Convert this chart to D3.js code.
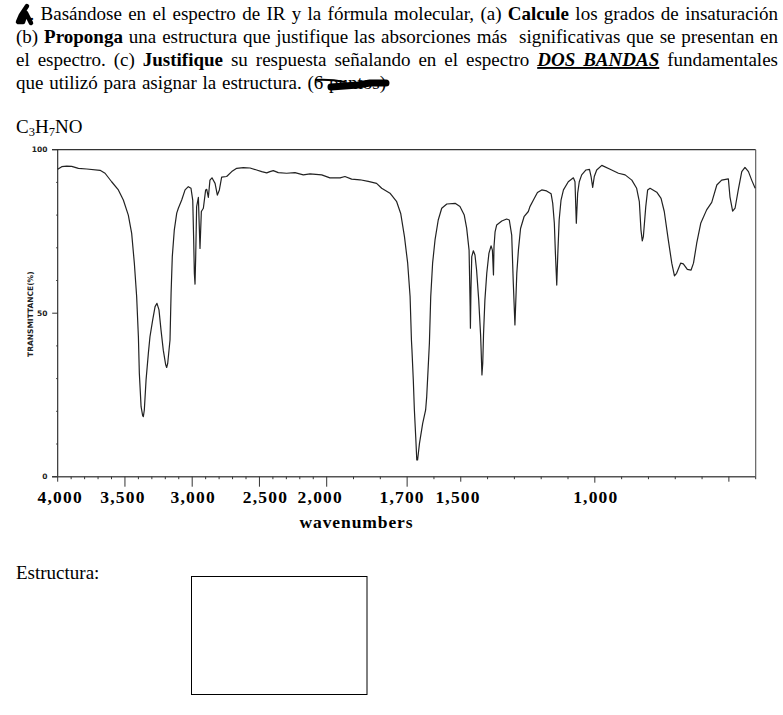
<!DOCTYPE html>
<html>
<head>
<meta charset="utf-8">
<script src="https://cdn.jsdelivr.net/npm/d3@7"></script>
<style>
  html, body { margin: 0; padding: 0; background: #fff; }
  svg { display: block; }
  text { fill: #000; white-space: pre; }
  .body { font-family: "Liberation Serif", serif; font-size: 19px; }
  .xlab { font-family: "Liberation Serif", serif; font-size: 17.5px; font-weight: bold; letter-spacing: 1.2px; }
  .ylab { font-family: "DejaVu Sans", sans-serif; font-size: 7.5px; font-weight: bold; fill: #222; }
</style>
</head>
<body>
<div id="wrapper"></div>
<script>
// spectrum: wavenumber (cm-1) / transmittance (%)
const wavenumbers = [
  4000, 3970, 3933, 3896, 3846, 3784, 3685, 3648, 3599, 3549, 3512, 3475, 3450, 3430, 3413, 3400,
  3393, 3380, 3368, 3363, 3356, 3343, 3326, 3314, 3294, 3276, 3262, 3247, 3232, 3215, 3197, 3190,
  3182, 3165, 3157, 3148, 3133, 3115, 3103, 3078, 3053, 3029, 3009, 2996, 2989, 2984, 2979, 2974,
  2967, 2954, 2949, 2942, 2932, 2917, 2900, 2892, 2880, 2868, 2853, 2830, 2813, 2798, 2781, 2744,
  2706, 2669, 2620, 2570, 2521, 2483, 2446, 2422, 2397, 2360, 2298, 2236, 2174, 2124, 2037, 1988,
  1950, 1932, 1907, 1876, 1845, 1814, 1795, 1764, 1739, 1724, 1710, 1698, 1689, 1684, 1682, 1677,
  1673, 1668, 1664, 1661, 1654, 1642, 1631, 1627, 1622, 1617, 1612, 1605, 1596, 1584, 1571, 1552,
  1521, 1503, 1487, 1478, 1469, 1465, 1464, 1462, 1459, 1453, 1447, 1441, 1433, 1426, 1424, 1421,
  1418, 1415, 1410, 1403, 1395, 1387, 1382, 1378, 1376, 1372, 1366, 1347, 1329, 1319, 1310, 1304,
  1298, 1291, 1285, 1277, 1264, 1248, 1242, 1229, 1214, 1198, 1180, 1163, 1157, 1151, 1147, 1142,
  1138, 1133, 1126, 1117, 1099, 1080, 1074, 1069, 1064, 1058, 1049, 1033, 1020, 1014, 1008, 1002,
  993, 974, 943, 912, 887, 862, 844, 834, 828, 823, 819, 810, 803, 794, 769, 753,
  741, 726, 713, 703, 695, 680, 670, 655, 641, 632, 620, 605, 583, 564, 545, 527,
  502, 496, 486, 477, 465, 452, 440, 427, 415, 402
]
const transmittance = [
  94.0, 94.8, 95.0, 94.9, 94.3, 94.1, 93.7, 92.8, 90.2, 87.7, 84.6, 80.0, 74.4, 65.2, 55.1, 42.8,
  31.6, 21.4, 18.6, 18.4, 20.4, 29.6, 37.7, 42.8, 47.9, 52.0, 53.0, 51.0, 44.9, 38.7, 34.2, 33.4,
  34.7, 41.8, 56.1, 67.3, 75.5, 80.6, 82.1, 84.6, 87.7, 88.7, 88.2, 84.6, 72.4, 62.2, 58.9, 67.3,
  82.6, 85.4, 78.5, 69.8, 81.1, 82.1, 87.7, 87.9, 85.4, 90.7, 91.4, 89.7, 86.1, 87.7, 91.6, 91.8,
  93.3, 94.3, 94.5, 94.4, 93.8, 93.3, 92.9, 93.3, 93.6, 93.0, 92.8, 93.0, 92.3, 92.6, 92.3, 91.4,
  91.4, 91.8, 91.0, 90.8, 90.3, 89.7, 88.2, 86.7, 84.1, 80.5, 73.4, 65.3, 55.1, 41.8, 38.7, 29.6,
  20.4, 12.2, 5.1, 5.1, 10.2, 16.3, 20.4, 24.5, 32.6, 40.8, 55.1, 65.3, 72.4, 78.5, 82.1, 83.4,
  83.6, 82.6, 80.0, 76.0, 69.3, 52.0, 45.4, 57.1, 67.3, 69.1, 67.8, 63.2, 54.0, 43.3, 38.7, 31.1,
  34.7, 43.8, 54.0, 62.2, 68.3, 70.6, 69.3, 61.7, 70.4, 74.9, 77.0, 78.2, 78.8, 78.5, 73.9, 59.1,
  46.4, 62.2, 69.3, 75.9, 79.5, 81.1, 82.6, 84.6, 86.9, 87.7, 87.4, 86.5, 83.6, 77.5, 68.3, 58.6,
  68.3, 78.5, 84.6, 87.7, 90.2, 91.4, 90.2, 77.5, 86.7, 90.2, 92.3, 93.8, 94.0, 91.8, 88.5, 91.8,
  93.8, 95.2, 94.0, 92.8, 92.3, 90.7, 88.2, 84.1, 75.5, 72.1, 73.4, 82.6, 87.7, 88.2, 87.0, 85.1,
  81.1, 72.4, 65.3, 61.4, 62.2, 65.3, 65.1, 63.4, 63.2, 65.3, 71.4, 77.5, 81.6, 83.9, 89.2, 90.7,
  91.1, 85.6, 81.2, 82.1, 87.7, 93.3, 94.6, 93.3, 90.7, 88.2
]
const xTickLabels = [4000, 3500, 3000, 2500, 2000, 1700, 1500, 1000]
const xLongTicks = [4000, 3500, 3000, 2500, 2000, 1700, 1500, 1000, 500]
const yTickLabels = [0, 50, 100]
const xTitle = "wavenumbers"
const yTitle = "TRANSMITTANCE(%)"

// question text, one list per line: [text, style]
const questionLines = [
  [[". Basándose en el espectro de IR y la fórmula molecular, (a) ", ""], ["Calcule", "b"], [" los grados de insaturación", ""]],
  [["(b) ", ""], ["Proponga", "b"], [" una estructura que justifique las absorciones más  significativas que se presentan en", ""]],
  [["el espectro. (c) ", ""], ["Justifique", "b"], [" su respuesta señalando en el espectro ", ""], ["DOS BANDAS", "bi"], [" fundamentales", ""]],
  [["que utilizó para asignar la estructura. (6 puntos)", ""]]
]

function drawPage() {
  const width = 783
  const height = 715
  const margins = { top: 149.7, right: 27.3, bottom: 238.3, left: 57.7 }

  const svg = d3.select("#wrapper").append("svg")
    .attr("width", width)
    .attr("height", height)

  // text block at the top, justified by measuring each line
  const lineStart = [29.5, 16, 16, 16]
  const lineBase = [20, 43, 66, 88.5]
  const lineEnd = 778
  questionLines.forEach((parts, i) => {
    const line = svg.append("text")
      .attr("class", "body")
      .attr("x", lineStart[i])
      .attr("y", lineBase[i])
    parts.forEach(p => {
      line.append("tspan")
        .text(p[0])
        .attr("font-weight", p[1] ? "bold" : null)
        .attr("font-style", p[1] === "bi" ? "italic" : null)
        .attr("text-decoration", p[1] === "bi" ? "underline" : null)
    })
    if (i < 3) {
      const full = parts.map(p => p[0]).join("")
      const spaces = full.split(" ").length - 1
      const extra = (lineEnd - lineStart[i] - line.node().getComputedTextLength()) / spaces
      line.attr("word-spacing", extra)
    } else {
      line.attr("word-spacing", 1)
    }
  })

  // scribbles over the question number and the points
  svg.append("path")
    .attr("d", "M27 6 L21 15 L18 22 L23 22 L26 13 L31 23")
    .attr("fill", "none").attr("stroke", "#000").attr("stroke-width", 4.5)
    .attr("stroke-linecap", "round").attr("stroke-linejoin", "round")
  svg.append("path")
    .attr("d", "M315 80 Q330 79 345 82")
    .attr("fill", "none").attr("stroke", "#000").attr("stroke-width", 2)
  svg.append("path")
    .attr("d", "M331 87 L358 85 L370 83 L386 83")
    .attr("fill", "none").attr("stroke", "#000").attr("stroke-width", 7)
    .attr("stroke-linecap", "round").attr("stroke-linejoin", "round")

  // formula
  const formula = svg.append("text").attr("class", "body").attr("x", 16).attr("y", 132.5)
  formula.append("tspan").text("C")
  formula.append("tspan").text("3").attr("font-size", 12.5).attr("dy", 3)
  formula.append("tspan").text("H").attr("dy", -3)
  formula.append("tspan").text("7").attr("font-size", 12.5).attr("dy", 3)
  formula.append("tspan").text("NO").attr("dy", -3)

  // scales: the instrument changes x scale at 2000
  const xScale = d3.scaleLinear()
    .domain([4000, 2000, 400])
    .range([margins.left, 326.7, width - margins.right])
  const yScale = d3.scaleLinear()
    .domain([0, 100])
    .range([height - margins.bottom, margins.top])

  // frame
  const frame = svg.append("g").attr("fill", "none")
  frame.append("line")
    .attr("x1", 52).attr("x2", xScale(400))
    .attr("y1", yScale(100)).attr("y2", yScale(100))
    .attr("stroke", "#333").attr("stroke-width", 1.3)
  frame.append("line")
    .attr("x1", xScale(4000)).attr("x2", xScale(4000))
    .attr("y1", yScale(100)).attr("y2", yScale(0))
    .attr("stroke", "#222").attr("stroke-width", 1.1)
  frame.append("line")
    .attr("x1", xScale(400)).attr("x2", xScale(400))
    .attr("y1", yScale(100)).attr("y2", yScale(0))
    .attr("stroke", "#555").attr("stroke-width", 1.1)
  frame.append("line")
    .attr("x1", 52).attr("x2", xScale(400))
    .attr("y1", yScale(0)).attr("y2", yScale(0))
    .attr("stroke", "#555").attr("stroke-width", 1.4)

  // ticks
  frame.selectAll(".xtick")
    .data(d3.range(400, 4001, 100))
    .join("line")
    .attr("x1", d => xScale(d)).attr("x2", d => xScale(d))
    .attr("y1", yScale(0))
    .attr("y2", d => yScale(0) + (xLongTicks.includes(d) ? (d === 1500 || d === 4000 || d === 500 ? 5 : d === 1000 ? 6 : 10) : 2.5))
    .attr("stroke", "#333").attr("stroke-width", 1)
  frame.selectAll(".ytick")
    .data(d3.range(0, 101, 10))
    .join("line")
    .attr("x1", d => xScale(4000) - (d % 50 === 0 ? 5.5 : 1.5)).attr("x2", xScale(4000))
    .attr("y1", d => yScale(d)).attr("y2", d => yScale(d))
    .attr("stroke", "#333").attr("stroke-width", 1)

  // tick labels
  const labelNudge = { 4000: 2.5, 3500: -2, 3000: 1, 2500: 6, 2000: -6.4, 1700: -5, 1500: -2.7, 1000: 1 }
  const commaFormat = d3.format(",")
  svg.selectAll(".xlab")
    .data(xTickLabels)
    .join("text")
    .attr("class", "xlab")
    .attr("x", d => xScale(d) + labelNudge[d])
    .attr("y", 502.5)
    .attr("text-anchor", "middle")
    .text(d => commaFormat(d))
  svg.selectAll(".ylab")
    .data(yTickLabels)
    .join("text")
    .attr("class", "ylab")
    .attr("x", 47.5)
    .attr("y", d => yScale(d) + 2.7)
    .attr("text-anchor", "end")
    .text(d => d)

  svg.append("text")
    .attr("class", "xlab")
    .attr("x", 356.5).attr("y", 528)
    .attr("text-anchor", "middle")
    .style("letter-spacing", "0.9px")
    .text(xTitle)
  svg.append("text")
    .attr("class", "ylab")
    .attr("transform", `translate(33,${yScale(50) + 1}) rotate(-90)`)
    .attr("text-anchor", "middle")
    .text(yTitle)

  // the spectrum
  const lineGen = d3.line()
    .x(i => xScale(wavenumbers[i]))
    .y(i => yScale(transmittance[i]))
  svg.append("path")
    .attr("d", lineGen(d3.range(wavenumbers.length)))
    .attr("fill", "none")
    .attr("stroke", "#222")
    .attr("stroke-width", 1.2)
    .attr("stroke-linejoin", "round")

  // answer area
  svg.append("text")
    .attr("class", "body")
    .attr("x", 16).attr("y", 579)
    .text("Estructura:")
  svg.append("rect")
    .attr("x", 191.5).attr("y", 576.5)
    .attr("width", 175.5).attr("height", 118)
    .attr("fill", "none")
    .attr("stroke", "#000")
    .attr("stroke-width", 1)
}
drawPage()
</script>
</body>
</html>
